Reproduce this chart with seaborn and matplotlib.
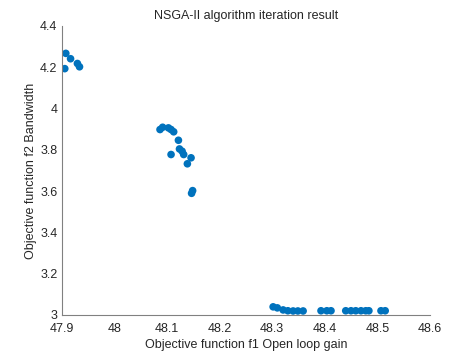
import pandas as pd
import matplotlib
matplotlib.use('Agg')
import matplotlib.pyplot as plt
import seaborn as sns

# Pareto front points
f1_gain = [47.908, 47.917, 47.906, 47.930, 47.934,
           48.087, 48.092, 48.103, 48.108, 48.113, 48.122, 48.124, 48.129,
           48.132, 48.108, 48.146, 48.139, 48.149, 48.147,
           48.302, 48.310, 48.321, 48.330, 48.340, 48.349, 48.359,
           48.393, 48.404, 48.412, 48.440, 48.450, 48.459, 48.469,
           48.478, 48.484, 48.507, 48.515]
f2_bandwidth = [4.267, 4.241, 4.193, 4.218, 4.202,
                3.898, 3.909, 3.906, 3.898, 3.887, 3.846, 3.804, 3.793,
                3.777, 3.777, 3.761, 3.732, 3.602, 3.589,
                3.039, 3.034, 3.024, 3.020, 3.019, 3.019, 3.019,
                3.020, 3.020, 3.020, 3.020, 3.020, 3.020, 3.020,
                3.020, 3.020, 3.020, 3.020]

xticks = [47.9, 48, 48.1, 48.2, 48.3, 48.4, 48.5, 48.6]
yticks = [3, 3.2, 3.4, 3.6, 3.8, 4, 4.2, 4.4]

df = pd.DataFrame({'f1': f1_gain, 'f2': f2_bandwidth})

sns.set_style('white')
plt.rcParams['font.family'] = ['Liberation Sans', 'DejaVu Sans']

fig = plt.figure(figsize=(4.74, 3.55), dpi=100)
ax = fig.add_axes([0.130, 0.113, 0.777, 0.814])

sns.scatterplot(data=df, x='f1', y='f2', color='#0072BD', s=30,
                edgecolor='none', ax=ax)

ax.set_xlim(47.9, 48.6)
ax.set_ylim(3, 4.4)
ax.set_xticks(xticks)
ax.set_xticklabels([f'{v:g}' for v in xticks])
ax.set_yticks(yticks)
ax.set_yticklabels([f'{v:g}' for v in yticks])

sns.despine(ax=ax)
for side in ['left', 'bottom']:
    ax.spines[side].set_color('#808080')
    ax.spines[side].set_linewidth(0.8)
ax.tick_params(direction='in', length=3, width=0.7, color='#808080',
               labelsize=9, labelcolor='#262626')
ax.tick_params(axis='x', pad=6)
ax.tick_params(axis='y', pad=3)

ax.set_title('NSGA-II algorithm iteration result', fontsize=9, pad=5)
ax.set_xlabel('Objective function f1 Open loop gain', fontsize=9, color='#262626', labelpad=3)
ax.set_ylabel('Objective function f2 Bandwidth', fontsize=9, color='#262626', labelpad=2)

fig.savefig('out.png', dpi=100)
